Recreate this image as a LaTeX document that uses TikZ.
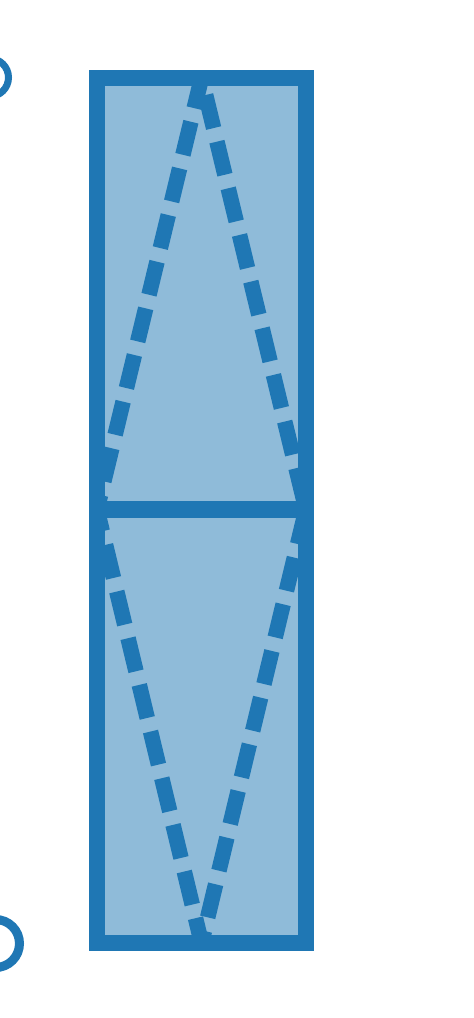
\documentclass[tikz,border=0pt]{standalone}
\definecolor{mblue}{HTML}{1F77B4}
\definecolor{mfill}{HTML}{8FBBD9}
\begin{document}
\begin{tikzpicture}[x=1pt,y=-1pt,
  frame/.style={draw=mblue,line width=16pt,fill=mfill,line join=miter},
  midline/.style={draw=mblue,line width=17pt},
  diag/.style={draw=mblue,line width=15.5pt,dash pattern=on 34pt off 14pt},
  ring/.style={draw=mblue,fill=none}]
\useasboundingbox (0,0) rectangle (474,1018);
\clip (0,0) rectangle (474,1018);
\coordinate (tl) at (97,78);
\coordinate (br) at (306,943);
\coordinate (ml) at (97,509.5);
\coordinate (mr) at (306,509.5);
\coordinate (tm) at (201.5,78);
\coordinate (bm) at (201.5,943);
\path[frame] (tl) rectangle (br);
\draw[diag,dash phase=3pt] (tm) -- (ml);
\draw[diag,dash phase=30.5pt] (tm) -- (mr);
\draw[diag,dash phase=11.6pt] (ml) -- (bm);
\draw[diag,dash phase=46.5pt] (mr) -- (bm);
\draw[midline] (ml) -- (mr);
\path[frame,fill=none] (tl) rectangle (br);
\node[ring,circle,line width=7pt,minimum size=38pt,inner sep=0pt] (c1) at (-10.5,77.5) {};
\node[ring,circle,line width=9pt,minimum size=48pt,inner sep=0pt] (c2) at (-4.5,943.5) {};
\end{tikzpicture}
\end{document}
